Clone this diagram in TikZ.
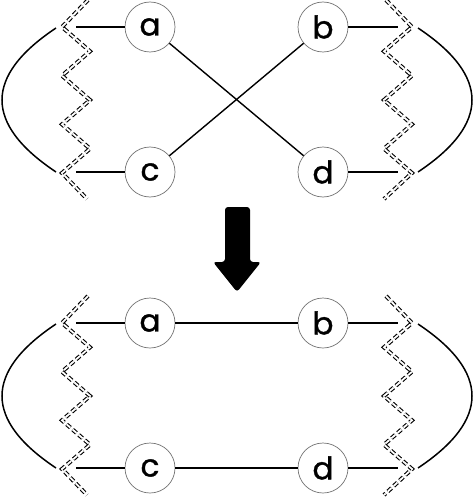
\documentclass[tikz,border=0pt]{standalone}
\usepackage{fontspec}
\setmainfont{Poppins}
\newfontfamily\lblfont[FakeBold=1.2]{Poppins}
\begin{document}
\begin{tikzpicture}[x=1pt,y=-1pt,
  vert/.style={circle,draw=black!55,line width=0.7pt,minimum size=50pt,inner sep=0pt,
    font=\lblfont\fontsize{31}{31}\selectfont},
  wire/.style={draw,line width=1.4pt},
  zz/.style={draw,double,double distance=1.8pt,line width=1.1pt,dash pattern=on 5pt off 3pt},
  loopline/.style={draw,line width=1.5pt}]
\useasboundingbox (0,0) rectangle (474,500);
% zigzag templates
\newcommand{\leftzig}[1]{%
  \path[zz] (88,#1+0) -- (62,#1+27) -- (90,#1+51.3) -- (62,#1+75.7) -- (90,#1+100) -- (62,#1+124.3) -- (90,#1+148.7) -- (62,#1+173) -- (87,#1+199);}
\newcommand{\rightzig}[1]{%
  \path[zz] (386,#1+0) -- (412,#1+27) -- (384,#1+51.3) -- (412,#1+75.7) -- (384,#1+100) -- (412,#1+124.3) -- (384,#1+148.7) -- (412,#1+173) -- (384,#1+199);}
% ---------- top ----------
\leftzig{0}
\rightzig{0}
\node[vert] (a1) at (150,27) {a};
\node[vert] (b1) at (323,27) {b};
\node[vert] (c1) at (150,172) {c};
\node[vert] (d1) at (323,172) {d};
\coordinate (la1) at (76,27);  \coordinate (lc1) at (76,172);
\coordinate (rb1) at (398,27); \coordinate (rd1) at (398,172);
\coordinate (ta) at (56,28); \coordinate (tc) at (56,172);
\coordinate (tb) at (418,28); \coordinate (td) at (418,172);
\path[wire] (a1) -- (la1);
\path[wire] (c1) -- (lc1);
\path[wire] (b1) -- (rb1);
\path[wire] (d1) -- (rd1);
\path[wire] (a1) -- (d1);
\path[wire] (c1) -- (b1);
\path[loopline] (ta) .. controls (-16,76) and (-16,124) .. (tc);
\path[loopline] (tb) .. controls (490,76) and (490,124) .. (td);
% ---------- arrow ----------
\fill[rounded corners=3pt] (225,207) -- (250,207) -- (250,262) -- (261,262)
  -- (237,292) -- (213,262) -- (225,262) -- cycle;
% ---------- bottom ----------
\leftzig{296}
\rightzig{296}
\node[vert] (a2) at (150,323) {a};
\node[vert] (b2) at (323,323) {b};
\node[vert] (c2) at (150,468) {c};
\node[vert] (d2) at (323,468) {d};
\coordinate (la2) at (76,323);  \coordinate (lc2) at (76,468);
\coordinate (rb2) at (398,323); \coordinate (rd2) at (398,468);
\coordinate (ba) at (56,324); \coordinate (bc) at (56,468);
\coordinate (bb) at (418,324); \coordinate (bd) at (418,468);
\path[wire] (a2) -- (la2);
\path[wire] (c2) -- (lc2);
\path[wire] (b2) -- (rb2);
\path[wire] (d2) -- (rd2);
\path[wire] (a2) -- (b2);
\path[wire] (c2) -- (d2);
\path[loopline] (ba) .. controls (-16,372) and (-16,420) .. (bc);
\path[loopline] (bb) .. controls (490,372) and (490,420) .. (bd);
\end{tikzpicture}
\end{document}
